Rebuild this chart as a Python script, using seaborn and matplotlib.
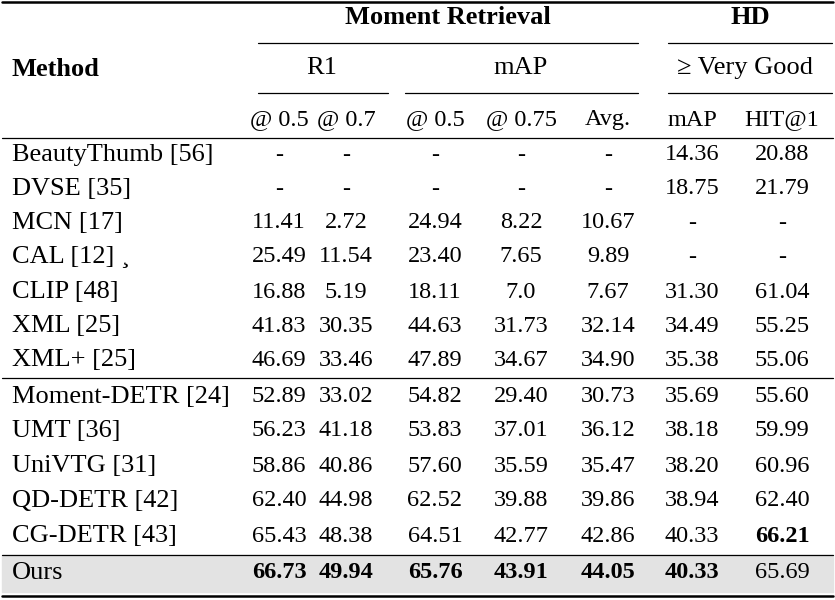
import matplotlib
matplotlib.use("Agg")
import matplotlib.pyplot as plt
import seaborn as sns

sns.set_theme(style="white")
plt.rcParams['font.family'] = ['Liberation Serif', 'DejaVu Serif']
plt.rcParams['text.color'] = 'black'

methods = ["BeautyThumb [56]", "DVSE [35]", "MCN [17]", "CAL [12] ¸", "CLIP [48]", "XML [25]",
           "XML+ [25]", "Moment-DETR [24]", "UMT [36]", "UniVTG [31]", "QD-DETR [42]",
           "CG-DETR [43]", "Ours"]
r1_05 = ["-", "-", "11.41", "25.49", "16.88", "41.83", "46.69", "52.89", "56.23", "58.86", "62.40", "65.43", "66.73"]
r1_07 = ["-", "-", "2.72", "11.54", "5.19", "30.35", "33.46", "33.02", "41.18", "40.86", "44.98", "48.38", "49.94"]
map_05 = ["-", "-", "24.94", "23.40", "18.11", "44.63", "47.89", "54.82", "53.83", "57.60", "62.52", "64.51", "65.76"]
map_075 = ["-", "-", "8.22", "7.65", "7.0", "31.73", "34.67", "29.40", "37.01", "35.59", "39.88", "42.77", "43.91"]
map_avg = ["-", "-", "10.67", "9.89", "7.67", "32.14", "34.90", "30.73", "36.12", "35.47", "39.86", "42.86", "44.05"]
hd_map = ["14.36", "18.75", "-", "-", "31.30", "34.49", "35.38", "35.69", "38.18", "38.20", "38.94", "40.33", "40.33"]
hd_hit = ["20.88", "21.79", "-", "-", "61.04", "55.25", "55.06", "55.60", "59.99", "60.96", "62.40", "66.21", "65.69"]
sub_headers = ["@ 0.5", "@ 0.7", "@ 0.5", "@ 0.75", "Avg.", "mAP", "HIT@1"]

cols = [r1_05, r1_07, map_05, map_075, map_avg, hd_map, hd_hit]
col_x = [279, 346, 435, 521, 608, 692, 782]
row_y = [155, 189, 223, 257, 292, 326, 360, 397, 431, 466, 501, 536, 573]

fig = plt.figure(figsize=(8.35, 6.0), dpi=100)
ax = fig.add_axes([0, 0, 1, 1])
ax.set_xlim(0, 835)
ax.set_ylim(600, 0)
ax.axis("off")
fs = 17.5
mfs = 19

ax.fill_between([2, 833], 555, 592, color="#e3e3e3", zorder=0)

ax.plot([2, 833], [2, 2], color="black", lw=1.8)
ax.plot([2, 833], [596, 596], color="black", lw=1.8)
ax.plot([2, 833], [138, 138], color="black", lw=0.9)
ax.plot([2, 833], [378, 378], color="black", lw=0.9)
ax.plot([2, 833], [555, 555], color="black", lw=0.9)
for x0, x1, y in [(258, 638, 43), (668, 832, 43), (258, 388, 93), (405, 638, 93), (668, 832, 93)]:
    ax.plot([x0, x1], [y, y], color="black", lw=0.9)

ax.text(448, 18, "Moment Retrieval", ha="center", va="center", fontsize=mfs, fontweight="bold")
ax.text(750, 18, "HD", ha="center", va="center", fontsize=mfs, fontweight="bold")
ax.text(12, 70, "Method", ha="left", va="center", fontsize=mfs, fontweight="bold")
ax.text(322, 68, "R1", ha="center", va="center", fontsize=mfs)
ax.text(521, 68, "mAP", ha="center", va="center", fontsize=mfs)
ax.text(745, 68, "≥ Very Good", ha="center", va="center", fontsize=mfs)
for x, s in zip(col_x, sub_headers):
    ax.text(x, 120, s, ha="center", va="center", fontsize=fs)

for i, (m, y) in enumerate(zip(methods, row_y)):
    ax.text(12, y, m, ha="left", va="center", fontsize=mfs)
    for j, (x, c) in enumerate(zip(col_x, cols)):
        bold = (i == len(methods) - 1 and j != 6) or (m.startswith("CG-DETR") and j == 6)
        ax.text(x, y, c[i], ha="center", va="center", fontsize=fs,
                fontweight="bold" if bold else "normal")

fig.savefig("out.png", dpi=100)
